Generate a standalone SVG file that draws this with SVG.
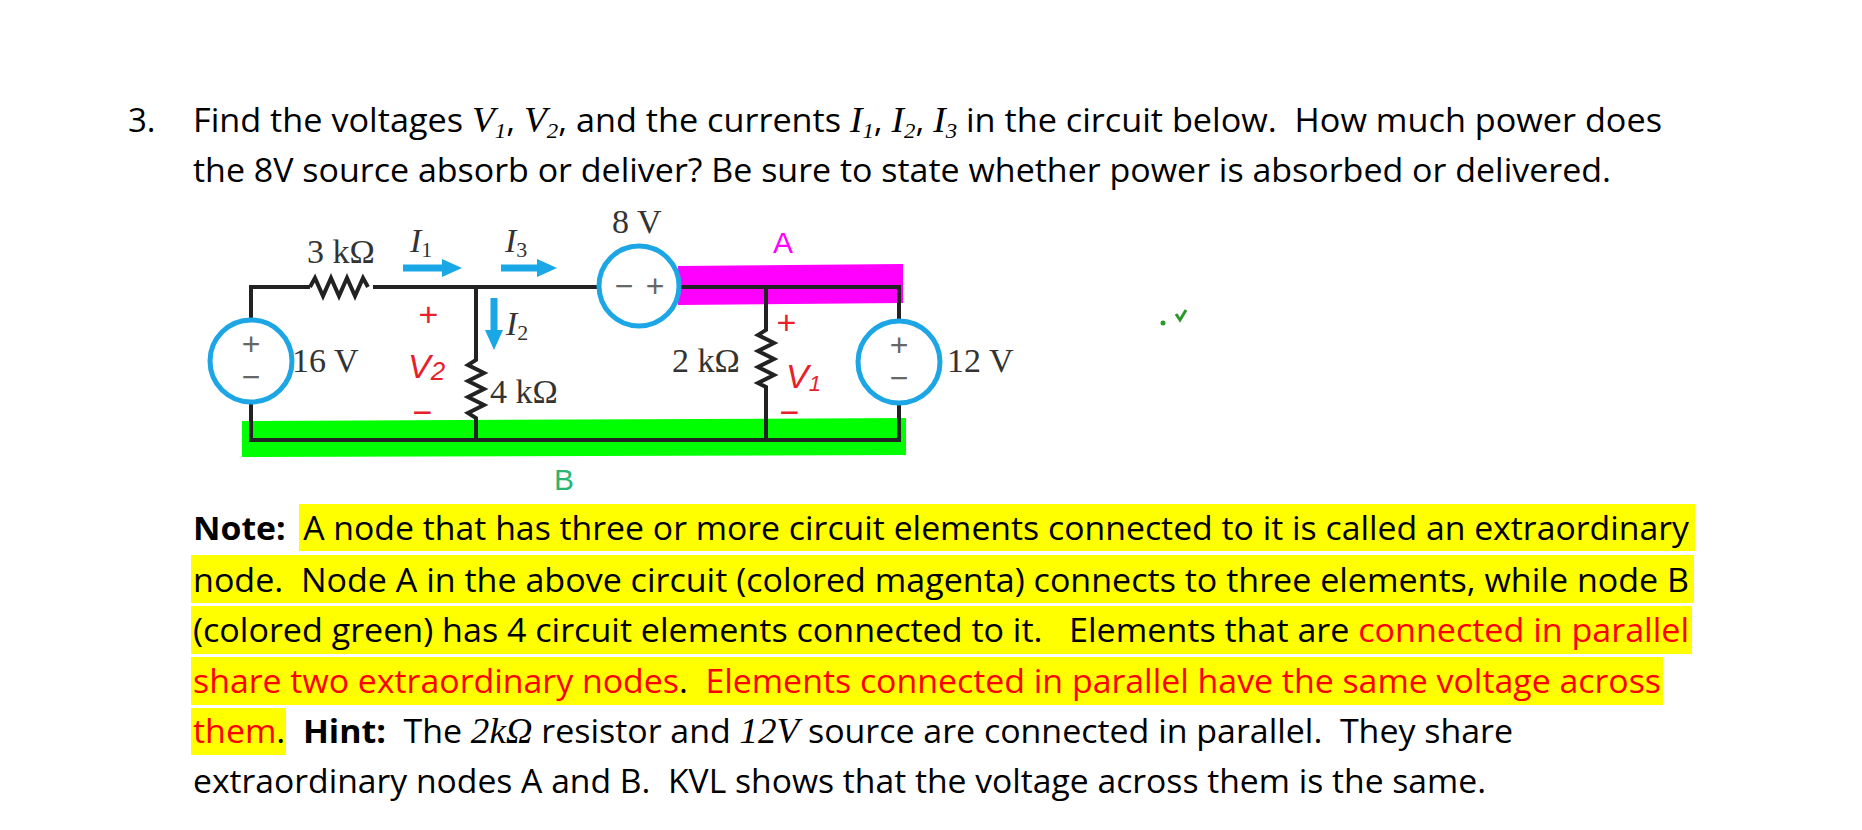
<svg xmlns="http://www.w3.org/2000/svg" width="1862" height="830" viewBox="0 0 1862 830">
<style>
.t{font-family:"Open Sans","Liberation Sans",sans-serif;font-size:33px;fill:#000}
.b{font-weight:bold}
.r{fill:#ff0000}
.m{font-family:"Liberation Serif",serif;font-style:italic}
.lbl{font-family:"Liberation Serif",serif;font-size:34px;fill:#333}
.w{fill:none;stroke:#222;stroke-width:4;stroke-linejoin:miter}
.src{fill:none;stroke:#1ca6e6;stroke-width:5}
.sg{font-family:"Liberation Sans",sans-serif;font-size:32px;fill:#666;text-anchor:middle}
.arr{stroke:#1aa7e6;stroke-width:7;fill:none}
.hd{fill:#1aa7e6}
.hw{font-family:"Liberation Sans",sans-serif;font-style:italic;font-size:34px;fill:#e8202a}
.hl{fill:#ffff00}
</style>
<rect width="1862" height="830" fill="#fff"/>
<g id="question">
<text class="t" x="128" y="132">3.</text>
<text class="t" x="193" y="132" xml:space="preserve" textLength="1469" lengthAdjust="spacingAndGlyphs">Find the voltages <tspan class="m" font-size="36">V</tspan><tspan class="m" font-size="22" dy="6" font-style="normal">1</tspan><tspan dy="-6">, </tspan><tspan class="m" font-size="36">V</tspan><tspan class="m" font-size="22" dy="6" font-style="normal">2</tspan><tspan dy="-6">, and the currents </tspan><tspan class="m" font-size="36">I</tspan><tspan class="m" font-size="22" dy="6" font-style="normal">1</tspan><tspan dy="-6">, </tspan><tspan class="m" font-size="36">I</tspan><tspan class="m" font-size="22" dy="6" font-style="normal">2</tspan><tspan dy="-6">, </tspan><tspan class="m" font-size="36">I</tspan><tspan class="m" font-size="22" dy="6" font-style="normal">3</tspan><tspan dy="-6"> in the circuit below.  How much power does</tspan></text>
<text class="t" x="193" y="182" textLength="1418" lengthAdjust="spacingAndGlyphs">the 8V source absorb or deliver? Be sure to state whether power is absorbed or delivered.</text>
</g>
<g id="node-bands">
<path d="M678,266 L903,264 L903,303 L678,305 Z" fill="#ff00ff"/>
<path d="M242,421 L906,418 L906,455 L242,457 Z" fill="#00ff00"/>
</g>
<g id="connectors">
<path class="w" d="M251,320 L251,287 L310,287 M373,287 L599,287 M679,287 L899,287 L899,321 M899,403 L899,440 L251,440 L251,402"/>
<path class="w" d="M310,287 l5,-9 l8,18 l8,-18 l8,18 l8,-18 l8,18 l8,-18 l5,9"/>
<path class="w" d="M476,287 L476,360 l-8,5 l16,8 l-16,8 l16,8 l-16,8 l16,8 l-16,8 l8,5 L476,440"/>
<path class="w" d="M766,287 L766,330 l-8,5 l16,8 l-16,8 l16,8 l-16,8 l16,8 l-16,8 l8,4 L766,440"/>
</g>
<g id="src16"><circle class="src" cx="251" cy="361" r="41"/><text class="sg" x="251" y="355">+</text><text class="sg" x="251" y="388">−</text><text class="lbl" x="292" y="372">16 V</text></g>
<g id="src8"><circle class="src" cx="639" cy="286" r="40"/><text class="sg" x="624" y="297">−</text><text class="sg" x="655" y="297">+</text><text class="lbl" x="612" y="233">8 V</text></g>
<g id="src12"><circle class="src" cx="899" cy="362" r="41"/><text class="sg" x="899" y="356">+</text><text class="sg" x="899" y="389">−</text><text class="lbl" x="947" y="372">12 V</text></g>
<g id="r3k"><text class="lbl" x="307" y="263">3 kΩ</text></g>
<g id="r4k"><text class="lbl" x="490" y="403">4 kΩ</text></g>
<g id="r2k"><text class="lbl" x="672" y="372">2 kΩ</text></g>
<g id="currents">
<path class="arr" d="M403,268 L445,268"/><path class="hd" d="M442,259 L462,268 L442,277 Z"/>
<path class="arr" d="M501,268 L540,268"/><path class="hd" d="M537,259 L557,268 L537,277 Z"/>
<path class="arr" d="M494,298 L494,333"/><path class="hd" d="M485,330 L494,350 L503,330 Z"/>
<text class="lbl m" x="410" y="252">I<tspan font-size="22" dy="5" font-style="normal">1</tspan></text>
<text class="lbl m" x="505" y="252">I<tspan font-size="22" dy="5" font-style="normal">3</tspan></text>
<text class="lbl m" x="506" y="335">I<tspan font-size="22" dy="5" font-style="normal">2</tspan></text>
</g>
<g id="handwritten">
<text class="hw" x="418" y="326" font-size="40">+</text>
<text class="hw" x="408" y="378" font-size="36">V<tspan font-size="26" dy="2">2</tspan></text>
<text class="hw" x="412" y="424" font-size="36">−</text>
<text class="hw" x="776" y="334" font-size="36">+</text>
<text class="hw" x="786" y="388" font-size="32">V<tspan font-size="22" dy="3">1</tspan></text>
<text class="hw" x="779" y="424" font-size="28">−</text>
</g>
<g id="node-labels">
<text x="783" y="253" font-family="Liberation Sans,sans-serif" font-size="30" fill="#ff00ff" text-anchor="middle">A</text>
<text x="564" y="490" font-family="Liberation Sans,sans-serif" font-size="30" fill="#2bb573" text-anchor="middle">B</text>
</g>
<g id="mark"><circle cx="1163" cy="323" r="2.5" fill="#2a9a2a"/><path d="M1176,314 l4,6 l6,-10" stroke="#2a9a2a" stroke-width="3" fill="none"/></g>
<g id="note">
<rect class="hl" x="299" y="504" width="1396" height="47"/>
<rect class="hl" x="191" y="555" width="1503" height="48"/>
<rect class="hl" x="191" y="606" width="1501" height="48"/>
<rect class="hl" x="191" y="657" width="1472" height="48"/>
<rect class="hl" x="191" y="708" width="95" height="47"/>
<text class="t" x="193" y="540" xml:space="preserve" textLength="1496" lengthAdjust="spacingAndGlyphs"><tspan class="b">Note:</tspan>  A node that has three or more circuit elements connected to it is called an extraordinary</text>
<text class="t" x="193" y="592" xml:space="preserve" textLength="1496" lengthAdjust="spacingAndGlyphs">node.  Node A in the above circuit (colored magenta) connects to three elements, while node B</text>
<text class="t" x="193" y="642" xml:space="preserve" textLength="1496" lengthAdjust="spacingAndGlyphs">(colored green) has 4 circuit elements connected to it.   Elements that are <tspan class="r">connected in parallel</tspan></text>
<text class="t" x="193" y="693" xml:space="preserve" textLength="1468" lengthAdjust="spacingAndGlyphs"><tspan class="r">share two extraordinary nodes</tspan>.  <tspan class="r">Elements connected in parallel have the same voltage across</tspan></text>
<text class="t" x="193" y="743" xml:space="preserve" textLength="1320" lengthAdjust="spacingAndGlyphs"><tspan class="r">them</tspan>.  <tspan class="b">Hint:</tspan>  The <tspan class="m" font-size="36">2kΩ</tspan> resistor and <tspan class="m" font-size="36">12V</tspan> source are connected in parallel.  They share</text>
<text class="t" x="193" y="793" xml:space="preserve" textLength="1293" lengthAdjust="spacingAndGlyphs">extraordinary nodes A and B.  KVL shows that the voltage across them is the same.</text>
</g>
</svg>
